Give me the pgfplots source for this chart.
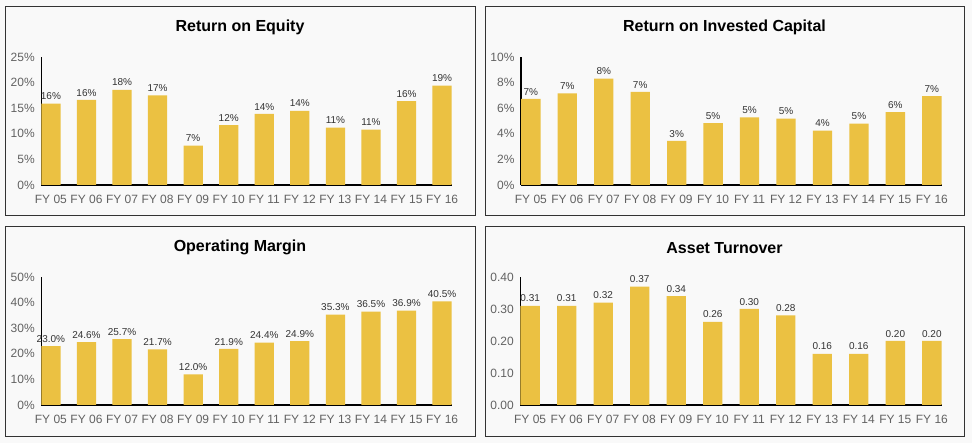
\documentclass[border=0pt]{standalone}
\usepackage{fontspec}
\setmainfont{Liberation Sans}
\usepackage{pgfplots}
\pgfplotsset{compat=1.18}
\definecolor{barc}{HTML}{EBC142}
\definecolor{bgc}{HTML}{F9F9F9}
\definecolor{tickc}{HTML}{626262}
\definecolor{framec}{HTML}{333333}
\definecolor{valc}{HTML}{333333}
\pgfplotsset{
 fin/.style={
  scale only axis, anchor=south west,
  height=128pt,
  ymin=0,
  xmin=-0.27, xmax=11.27,
  enlargelimits=false,
  axis lines=left, axis line style={-, black, line width=1.2pt},
  major tick length=0pt,
  xtick={0,...,11},
  xticklabels={FY 05,FY 06,FY 07,FY 08,FY 09,FY 10,FY 11,FY 12,FY 13,FY 14,FY 15,FY 16},
  tick label style={font=\fontsize{12}{14}\selectfont, text=tickc},
  xticklabel style={yshift=-7pt},
  yticklabel style={xshift=-3pt},
  ybar, bar width=0.54,
  point meta=explicit symbolic,
  nodes near coords,
  every node near coord/.append style={font=\fontsize{10}{12}\selectfont, text=valc, inner sep=3.5pt},
  clip=false,
 },
 barst/.style={fill=barc, draw=none},
}
\begin{document}
\begin{tikzpicture}
\fill[bgc] (0,0) rectangle (972pt,443pt);
\useasboundingbox (0,0) rectangle (972pt,443pt);
\draw[framec, line width=1pt] (5pt,227pt) rectangle (475pt,436pt);
\draw[framec, line width=1pt] (485pt,227pt) rectangle (964pt,436pt);
\draw[framec, line width=1pt] (5pt,6pt) rectangle (475pt,216pt);
\draw[framec, line width=1pt] (485pt,6pt) rectangle (964pt,216pt);
\node[font=\bfseries\fontsize{16}{19}\selectfont] at (240pt,416pt) {Return on Equity};
\node[font=\bfseries\fontsize{16}{19}\selectfont] at (724.5pt,415.5pt) {Return on Invested Capital};
\node[font=\bfseries\fontsize{16}{19}\selectfont] at (240pt,195.3pt) {Operating Margin};
\node[font=\bfseries\fontsize{16}{19}\selectfont] at (724.5pt,195.3pt) {Asset Turnover};

% Return on Equity
\begin{axis}[fin, at={(41.3pt,258pt)}, width=410.4pt, ymax=25,
  ytick={0,5,10,15,20,25}, yticklabels={0\%,5\%,10\%,15\%,20\%,25\%}]
\addplot[barst] coordinates {
(0,15.9) [16\%] (1,16.6) [16\%] (2,18.6) [18\%] (3,17.5) [17\%]
(4,7.7) [7\%] (5,11.7) [12\%] (6,13.9) [14\%] (7,14.5) [14\%]
(8,11.2) [11\%] (9,10.8) [11\%] (10,16.4) [16\%] (11,19.4) [19\%]};
\end{axis}

% Return on Invested Capital
\begin{axis}[fin, at={(521pt,258pt)}, width=420.7pt, ymax=10, bar width=0.53,
  ytick={0,2,4,6,8,10}, yticklabels={0\%,2\%,4\%,6\%,8\%,10\%}]
\addplot[barst] coordinates {
(0,6.72) [7\%] (1,7.16) [7\%] (2,8.3) [8\%] (3,7.27) [7\%]
(4,3.44) [3\%] (5,4.84) [5\%] (6,5.29) [5\%] (7,5.18) [5\%]
(8,4.24) [4\%] (9,4.79) [5\%] (10,5.7) [6\%] (11,6.95) [7\%]};
\end{axis}

% Operating Margin
\begin{axis}[fin, at={(41.3pt,38pt)}, width=410.4pt, ymax=50,
  ytick={0,10,20,30,40,50}, yticklabels={0\%,10\%,20\%,30\%,40\%,50\%}]
\addplot[barst] coordinates {
(0,23.0) [23.0\%] (1,24.6) [24.6\%] (2,25.7) [25.7\%] (3,21.7) [21.7\%]
(4,12.0) [12.0\%] (5,21.9) [21.9\%] (6,24.4) [24.4\%] (7,24.9) [24.9\%]
(8,35.3) [35.3\%] (9,36.5) [36.5\%] (10,36.9) [36.9\%] (11,40.5) [40.5\%]};
\end{axis}

% Asset Turnover
\begin{axis}[fin, at={(520.3pt,38pt)}, width=421.4pt, ymax=0.4, bar width=0.53,
  ytick={0,0.1,0.2,0.3,0.4}, yticklabels={0.00,0.10,0.20,0.30,0.40}]
\addplot[barst] coordinates {
(0,0.31) [0.31] (1,0.31) [0.31] (2,0.32) [0.32] (3,0.37) [0.37]
(4,0.34) [0.34] (5,0.26) [0.26] (6,0.30) [0.30] (7,0.28) [0.28]
(8,0.16) [0.16] (9,0.16) [0.16] (10,0.20) [0.20] (11,0.20) [0.20]};
\end{axis}
\end{tikzpicture}
\end{document}
